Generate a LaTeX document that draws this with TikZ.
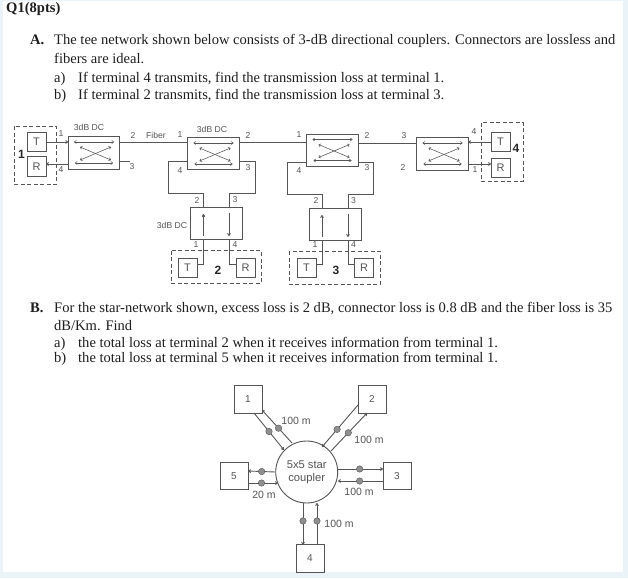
\documentclass[tikz,border=0pt]{standalone}
\usepackage{fontspec}
\setmainfont{Liberation Serif}
\newfontfamily\lsans{Liberation Sans}
\usetikzlibrary{arrows.meta}
\definecolor{ink}{HTML}{555555}
\definecolor{pagebg}{HTML}{EAF3F7}
\definecolor{dot}{HTML}{8F8F8F}
\tikzset{
  x=1pt,y=-1pt,
  para/.style={anchor=base west,inner sep=0pt,text=black!88,font=\fontsize{14.55}{16}\selectfont},
  parab/.style={para,font=\fontsize{14.55}{16}\selectfont\bfseries},
  lab/.style={inner sep=0pt,text=ink,font=\lsans\fontsize{8.6}{10}\selectfont},
  biglab/.style={inner sep=0pt,text=black!85,font=\lsans\bfseries\fontsize{12}{14}\selectfont},
  starlab/.style={inner sep=0pt,text=ink,font=\lsans\fontsize{10.5}{12}\selectfont},
  unit/.style={draw=ink,line width=.9pt,inner sep=0pt,outer sep=0pt,minimum width=19pt,minimum height=19.5pt,text=ink,font=\lsans\fontsize{11}{12}\selectfont},
  sbox/.style={draw=ink,line width=.9pt,inner sep=0pt,outer sep=0pt,minimum width=28pt,minimum height=27.5pt,text=ink,font=\lsans\fontsize{10}{11}\selectfont},
  dcbox/.style={draw=ink,line width=1pt,inner sep=0pt,outer sep=0pt,minimum width=#1},
  dcbox/.default=51.5pt,
  term/.style={draw=ink,dashed,dash pattern=on 4pt off 2.5pt,line width=.8pt},
  wire/.style={draw=ink,line width=.9pt},
  flow/.style={wire,-{To[length=3pt,width=3.5pt]}},
  inner/.style={draw=ink,line width=.55pt,{To[length=2.4pt,width=3.4pt]}-{To[length=2.4pt,width=3.4pt]}},
  tap/.style={circle,draw=ink,fill=dot,line width=.4pt,inner sep=0pt,minimum size=6.5pt},
}
\newcommand{\crossdc}[4]{%
  \node[dcbox,minimum height=#4] (#1) at (#2,#3) {};
  \begin{scope}[shift={(#2,#3)}]
    \draw[inner] (-20,-10.5) -- (20,-10.5);
    \draw[inner] (-19,10.5) -- (19,10.5);
    \draw[inner] (-14,-5.5) -- (17,7.5);
    \draw[inner] (-14,7.5) -- (17,-5.5);
  \end{scope}}
\begin{document}
\begin{tikzpicture}
\useasboundingbox (0,0) rectangle (628,578);
\fill[pagebg] (0,0) rectangle (628,578);
\fill[white] (3,1) rectangle (623,572);

% ---- text
\node[parab] (q) at (6,13) {Q1(8pts)};
\node[parab] (ta) at (30,44.5) {A.};
\node[para] (t1) at (54,44.5) {The tee network shown below consists of 3-dB directional couplers. Connectors are lossless and};
\node[para] (t2) at (54,63.5) {fibers are ideal.};
\node[para] (t3) at (54,82) {a)};
\node[para] (t3b) at (78,82) {If terminal 4 transmits, find the transmission loss at terminal 1.};
\node[para] (t4) at (54,99) {b)};
\node[para] (t4b) at (78,99) {If terminal 2 transmits, find the transmission loss at terminal 3.};
\node[parab] (tb) at (30,312.5) {B.};
\node[para] (u1) at (54,312.5) {For the star-network shown, excess loss is 2 dB, connector loss is 0.8 dB and the fiber loss is 35};
\node[para] (u2) at (54,330) {dB/Km. Find};
\node[para] (u3) at (54,347) {a)};
\node[para] (u3b) at (78,347) {the total loss at terminal 2 when it receives information from terminal 1.};
\node[para] (u4) at (54,362.5) {b)};
\node[para] (u4b) at (78,362.5) {the total loss at terminal 5 when it receives information from terminal 1.};

% ---- tee network: couplers
\crossdc{dca}{94}{152.5}{33pt}
\crossdc{dcb}{213.5}{153.5}{32pt}
\crossdc{dcc}{332.5}{150}{32pt}
\crossdc{dcd}{442.5}{153.5}{33pt}
\node[dcbox=52pt,minimum height=32pt] (lowb) at (216,223) {};
\node[dcbox=52pt,minimum height=32pt] (lowc) at (335,224) {};

% ---- terminals
\draw[term] (14,126) rectangle (56,184.5);
\draw[term] (171,250.5) rectangle (261,283);
\draw[term] (289,251) rectangle (380,284);
\draw[term] (481,122.5) rectangle (523,181);
\node[unit] (Ta) at (36.5,142) {T};
\node[unit] (Ra) at (36.5,166.5) {R};
\node[unit] (Tb) at (187.5,268) {T};
\node[unit] (Rb) at (245.5,268) {R};
\node[unit] (Tc) at (306.5,268) {T};
\node[unit] (Rc) at (364,268) {R};
\node[unit] (Td) at (500.5,142) {T};
\node[unit] (Rd) at (500.5,168) {R};

% ---- port coordinates
\coordinate (ra) at (dca.west |- 0,164);
\coordinate (rd) at (dcd.east |- 0,164);
\coordinate (ca3) at (dca.east |- 0,161.5);
\coordinate (ca3e) at (130,161.5);
\coordinate (mid) at (dca.east |- 0,142);
\coordinate (bw) at (dcb.west |- 0,142);
\coordinate (be) at (dcb.east |- 0,142);
\coordinate (cw) at (dcc.west |- 0,142);
\coordinate (ce) at (dcc.east |- 0,143);
\coordinate (dw) at (dcd.west |- 0,143);

% ---- bus
\draw[wire] (mid) -- (bw);
\draw[wire] (be) -- (cw);
\draw[wire] (ce) -- (dw);
\draw[wire] (ca3) -- (ca3e);
\draw[flow] (Ta.east) -- (Ta.east -| dca.west);
\draw[flow] (ra) -- (ra -| Ra.east);
\draw[flow] (Td.west) -- (Td.west -| dcd.east);
\draw[flow] (rd) -- (rd -| Rd.west);

% ---- tee drops
\coordinate (b2) at (203.5,207);
\coordinate (b3) at (229,207);
\coordinate (c2) at (322,208);
\coordinate (c3) at (348,208);
\draw[wire] (dcb.west |- 0,161) -- (168,161) -- (168,193) -- (203.5,193) -- (b2);
\draw[wire] (dcb.east |- 0,161) -- (255,161) -- (255,193) -- (229,193) -- (b3);
\draw[wire] (dcc.west |- 0,162) -- (287,162) -- (287,194) -- (322,194) -- (c2);
\draw[wire] (dcc.east |- 0,162) -- (373,162) -- (373,194) -- (348,194) -- (c3);
\draw[wire] (203.5,239) -- (203.5,264) -- (Tb.east |- 0,264);
\draw[wire] (229,239) -- (229,264) -- (Rb.west |- 0,264);
\draw[wire] (322,240) -- (322,264) -- (Tc.east |- 0,264);
\draw[wire] (348,240) -- (348,264) -- (Rc.west |- 0,264);
\draw[flow] (203.5,236) -- (203.5,214);
\draw[flow] (229,213) -- (229,236);
\draw[flow] (322,237) -- (322,215);
\draw[flow] (348,214) -- (348,237);

% ---- tee labels
\node[lab] (l01) at (89,127.5) {3dB DC};
\node[lab] (l02) at (212,129) {3dB DC};
\node[lab] (l03) at (172,225) {3dB DC};
\node[lab] (l04) at (61,134) {1};
\node[lab] (l05) at (61,170) {4};
\node[lab] (l06) at (133,135) {2};
\node[lab] (l07) at (156,135) {Fiber};
\node[lab] (l08) at (180,135) {1};
\node[lab] (l09) at (132,166.5) {3};
\node[lab] (l10) at (248,135) {2};
\node[lab] (l11) at (299,135) {1};
\node[lab] (l12) at (180,171) {4};
\node[lab] (l13) at (248,167.5) {3};
\node[lab] (l14) at (299,171) {4};
\node[lab] (l15) at (367,135.5) {2};
\node[lab] (l16) at (367,168) {3};
\node[lab] (l17) at (404,136) {3};
\node[lab] (l18) at (403,167.5) {2};
\node[lab] (l19) at (474,132) {4};
\node[lab] (l20) at (475,170) {1};
\node[lab] (l21) at (197,200) {2};
\node[lab] (l22) at (235,200) {3};
\node[lab] (l23) at (196,245) {1};
\node[lab] (l24) at (235,245) {4};
\node[lab] (l25) at (316,200.5) {2};
\node[lab] (l26) at (353.5,200.5) {3};
\node[lab] (l27) at (315,245) {1};
\node[lab] (l28) at (353.5,245) {4};
\node[biglab] (n1) at (21.5,154) {1};
\node[biglab] (n2) at (218,270) {2};
\node[biglab] (n3) at (336,270) {3};
\node[biglab] (n4) at (516,148) {4};

% ---- star network
\node[circle,draw=ink,line width=.9pt,inner sep=0pt,minimum size=62pt,align=center,text=ink,font=\lsans\fontsize{11.2}{13}\selectfont] (star) at (306.7,472) {5x5 star\\coupler};
\node[sbox] (s1) at (248,399.5) {1};
\node[sbox] (s2) at (372,399.5) {2};
\node[sbox] (s3) at (397,476) {3};
\node[sbox] (s4) at (310,558.5) {4};
\node[sbox] (s5) at (234,476) {5};

\coordinate (a1) at (254,413); \coordinate (a2) at (284,450);
\coordinate (a3) at (292,443); \coordinate (a4) at (262,410);
\coordinate (b1) at (358,405); \coordinate (b2x) at (322,447);
\coordinate (b3x) at (331,451); \coordinate (b4) at (367,413);
\draw[flow] (a1) -- node[tap,pos=.5] (d1) {} (a2);
\draw[flow] (a3) -- node[tap,pos=.45] (d2) {} (a4);
\draw[flow] (b1) -- node[tap,pos=.58] (d3) {} (b2x);
\draw[flow] (b3x) -- node[tap,pos=.48] (d4) {} (b4);
\draw[flow] (star.east |- 0,469) -- node[tap,pos=.48] (d5) {} (s3.west |- 0,469);
\draw[flow] (s3.west |- 0,481) -- node[tap,pos=.52] (d6) {} (338,481);
\draw[flow] (303,503) -- node[tap,pos=.43] (d7) {} (s4.north -| 303,0);
\draw[flow] (s4.north -| 317,0) -- node[tap,pos=.57] (d8) {} (317,503);
\draw[flow] (star.west |- 0,472) -- node[tap,pos=.5] (d9) {} (s5.east |- 0,471);
\draw[flow] (s5.east |- 0,483) -- node[tap,pos=.45] (d10) {} (278,483);

\node[starlab] (m1) at (296,421) {100 m};
\node[starlab] (m2) at (369,440) {100 m};
\node[starlab] (m3) at (359,492) {100 m};
\node[starlab] (m4) at (339,524) {100 m};
\node[starlab] (m5) at (264,495) {20 m};
\end{tikzpicture}
\end{document}
